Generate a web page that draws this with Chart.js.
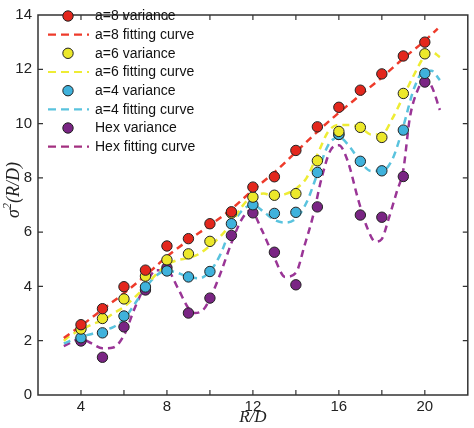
<!DOCTYPE html>
<html>
<head>
<meta charset="utf-8">
<script src="https://cdn.jsdelivr.net/npm/chart.js@4.4.1/dist/chart.umd.min.js"></script>
<style>
  html, body { margin: 0; padding: 0; background: #ffffff; }
  #wrap { width: 474px; height: 428px; }
</style>
</head>
<body>
<div id="wrap"><canvas id="c" width="474" height="428"></canvas></div>
<script>
// ---- data ----
const xCategories = [4,5,6,7,8,9,10,11,12,13,14,15,16,17,18,19,20];
const a8Variance  = [2.59,3.18,3.99,4.60,5.49,5.76,6.31,6.75,7.66,8.04,9.01,9.88,10.60,11.23,11.83,12.49,13.00];
const a6Variance  = [2.43,2.82,3.54,4.38,4.98,5.20,5.66,6.70,7.29,7.36,7.42,8.63,9.71,9.86,9.49,11.11,12.57];
const a4Variance  = [2.11,2.29,2.91,3.98,4.57,4.35,4.55,6.31,7.01,6.69,6.73,8.20,9.60,8.61,8.26,9.76,11.85];
const hexVariance = [1.99,1.39,2.51,3.87,4.69,3.02,3.57,5.88,6.71,5.26,4.06,6.93,9.60,6.63,6.55,8.05,11.53];

const a8FitX = [3.2,4,5,6,7,8,9,10,11,12,13,14,15,16,17,18,19,20,20.6];
const a8FitY = [2.1,2.55,3.15,3.75,4.4,5.1,5.7,6.25,6.85,7.55,8.2,8.95,9.7,10.4,11.05,11.7,12.4,13.05,13.5];

const a6FitX = [3.2,3.5,4,4.5,5,5.5,6,6.5,7,7.5,8,8.5,9,9.5,10,10.5,11,11.5,12,12.5,13,13.5,14,14.5,15,15.5,16,16.5,17,17.5,18,18.5,19,19.5,20,20.3,20.7];
const a6FitY = [2.0,2.19,2.4,2.6,2.75,3.0,3.25,3.6,4.0,4.45,4.8,4.97,5.05,5.2,5.5,5.85,6.35,6.95,7.35,7.42,7.32,7.4,7.6,8.0,8.85,9.7,9.95,9.95,9.85,9.6,9.6,10.2,11.0,11.8,12.5,12.65,12.45];

const a4FitX = [3.2,4,4.5,5,5.5,6,6.5,7,7.5,8,8.5,9,9.5,10,10.5,11,11.5,12,12.5,13,13.5,14,14.5,15,15.5,16,16.5,17,17.5,18,18.5,19,19.5,20,20.3,20.7];
const a4FitY = [1.9,2.15,2.25,2.38,2.5,2.8,3.35,3.95,4.4,4.58,4.5,4.35,4.3,4.55,5.2,6.2,6.8,7.0,6.75,6.45,6.35,6.5,7.1,8.15,9.2,9.5,9.15,8.6,8.25,8.25,8.7,9.9,11.3,11.95,11.95,11.6];

const hexFitX = [3.2,4,4.5,5,5.5,6,6.5,7,7.5,8,8.5,9,9.3,9.7,10,10.5,11,11.5,11.9,12.4,13,13.5,14,14.4,14.8,15.2,15.6,16,16.4,16.9,17.3,17.7,18,18.3,18.7,19,19.3,19.6,20,20.3,20.7];
const hexFitY = [1.8,2.07,1.9,1.72,1.75,2.2,3.2,4.05,4.6,4.6,3.95,3.2,3.02,3.15,3.55,4.5,5.6,6.5,6.8,6.1,5.05,4.35,4.5,5.5,6.6,8.0,9.0,9.2,8.65,7.2,6.2,5.65,5.75,6.45,7.5,8.3,10.2,11.1,11.6,11.4,10.5];

const xTicks = [4,8,12,16,20];
const yTicks = [0,2,4,6,8,10,12,14];

const seriesNames = ["a=8 variance","a=8 fitting curve","a=6 variance","a=6 fitting curve","a=4 variance","a=4 fitting curve","Hex variance","Hex fitting curve"];

// ---- styles ----
const C = {
  redPt: '#e3271d', yelPt: '#ece82a', cyaPt: '#3fb2dc', purPt: '#7a2584',
  redLn: '#ee3b2b', yelLn: '#eeec34', cyaLn: '#5ac3de', purLn: '#9a3596'
};
const pairs = (xs, ys) => xs.map((x, i) => ({x, y: ys[i]}));

function pointSet(label, ys, color, order) {
  return {
    label, data: pairs(xCategories, ys), showLine: false,
    pointRadius: 5.2, pointHoverRadius: 5.2,
    pointBackgroundColor: color, pointBorderColor: '#222', pointBorderWidth: 1,
    order
  };
}
function lineSet(label, xs, ys, color, order) {
  return {
    label, data: pairs(xs, ys), showLine: true, pointRadius: 0,
    borderColor: color, borderWidth: 2.5, borderDash: [7, 5],
    cubicInterpolationMode: 'monotone', fill: false, order
  };
}

const frame = {
  id: 'frame',
  afterDraw(chart) {
    const {ctx, chartArea: a, scales: {x, y}} = chart;
    ctx.save();
    ctx.strokeStyle = '#333';
    ctx.lineWidth = 1.5;
    ctx.strokeRect(a.left, a.top, a.right - a.left, a.bottom - a.top);
    ctx.lineWidth = 1.2;
    ctx.beginPath();
    for (let v = 4; v <= 20; v += 2) {
      const px = x.getPixelForValue(v);
      ctx.moveTo(px, a.bottom); ctx.lineTo(px, a.bottom - 5);
      ctx.moveTo(px, a.top); ctx.lineTo(px, a.top + 5);
    }
    for (let v = 2; v <= 12; v += 2) {
      const py = y.getPixelForValue(v);
      ctx.moveTo(a.left, py); ctx.lineTo(a.left + 5, py);
      ctx.moveTo(a.right, py); ctx.lineTo(a.right - 5, py);
    }
    ctx.stroke();

    // axis titles
    ctx.fillStyle = '#222';
    ctx.font = 'italic 17px "Liberation Serif", "DejaVu Serif", serif';
    ctx.textAlign = 'center';
    ctx.textBaseline = 'middle';
    ctx.fillText('R/D', (a.left + a.right) / 2, 418);

    ctx.save();
    ctx.translate(14, 190);
    ctx.rotate(-Math.PI / 2);
    ctx.textAlign = 'left';
    const f1 = 'italic 18px "Liberation Serif", "DejaVu Serif", serif';
    const f2 = 'italic 12px "Liberation Serif", "DejaVu Serif", serif';
    ctx.font = f1;
    const w1 = ctx.measureText('σ').width;
    const w3 = ctx.measureText('(R/D)').width;
    ctx.font = f2;
    const w2 = ctx.measureText('2').width;
    let sx = -(w1 + w2 + w3) / 2;
    ctx.font = f1; ctx.fillText('σ', sx, 0); sx += w1;
    ctx.font = f2; ctx.fillText('2', sx, -6); sx += w2;
    ctx.font = f1; ctx.fillText('(R/D)', sx, 0);
    ctx.restore();

    // legend
    const rows = [16, 34.7, 53.3, 72, 90.7, 109.3, 128, 146.7];
    const ptCols = [C.redPt, C.yelPt, C.cyaPt, C.purPt];
    const lnCols = [C.redLn, C.yelLn, C.cyaLn, C.purLn];
    ctx.font = '14px "Liberation Sans", Arial, sans-serif';
    ctx.textAlign = 'left';
    ctx.textBaseline = 'middle';
    seriesNames.forEach((name, i) => {
      const ry = rows[i];
      const k = Math.floor(i / 2);
      if (i % 2 === 0) {
        ctx.beginPath();
        ctx.arc(68, ry, 5.2, 0, Math.PI * 2);
        ctx.fillStyle = ptCols[k]; ctx.fill();
        ctx.lineWidth = 1; ctx.strokeStyle = '#222'; ctx.stroke();
      } else {
        ctx.save();
        ctx.strokeStyle = k === 3 ? '#a33080' : lnCols[k];
        ctx.lineWidth = 2.2;
        ctx.setLineDash([8, 5]);
        ctx.beginPath(); ctx.moveTo(48, ry); ctx.lineTo(89, ry); ctx.stroke();
        ctx.restore();
      }
      ctx.fillStyle = '#111';
      ctx.fillText(name, 95, ry + 0.5);
    });
    ctx.restore();
  }
};

new Chart(document.getElementById('c'), {
  type: 'scatter',
  data: {
    datasets: [
      pointSet(seriesNames[0], a8Variance, C.redPt, 1),
      pointSet(seriesNames[2], a6Variance, C.yelPt, 2),
      pointSet(seriesNames[4], a4Variance, C.cyaPt, 3),
      pointSet(seriesNames[6], hexVariance, C.purPt, 4),
      lineSet(seriesNames[1], a8FitX, a8FitY, C.redLn, 5),
      lineSet(seriesNames[3], a6FitX, a6FitY, C.yelLn, 6),
      lineSet(seriesNames[5], a4FitX, a4FitY, C.cyaLn, 7),
      lineSet(seriesNames[7], hexFitX, hexFitY, C.purLn, 8)
    ]
  },
  options: {
    responsive: false,
    animation: false,
    devicePixelRatio: 1,
    layout: { padding: { top: 3, right: 5, left: 0, bottom: 0 } },
    plugins: { legend: { display: false }, tooltip: { enabled: false } },
    scales: {
      x: {
        type: 'linear', min: 2, max: 22,
        afterFit(s) { s.height = 33; },
        afterBuildTicks(s) { s.ticks = xTicks.map(v => ({value: v})); },
        grid: { display: false, drawTicks: false },
        border: { display: false },
        ticks: { color: '#222', padding: 3, font: { family: '"Liberation Sans", Arial, sans-serif', size: 15 } }
      },
      y: {
        type: 'linear', min: 0, max: 14,
        afterFit(s) { s.width = 38; },
        afterBuildTicks(s) { s.ticks = yTicks.map(v => ({value: v})); },
        grid: { display: false, drawTicks: false },
        border: { display: false },
        ticks: { color: '#222', padding: 6, font: { family: '"Liberation Sans", Arial, sans-serif', size: 15 } }
      }
    }
  },
  plugins: [frame]
});
</script>
</body>
</html>
